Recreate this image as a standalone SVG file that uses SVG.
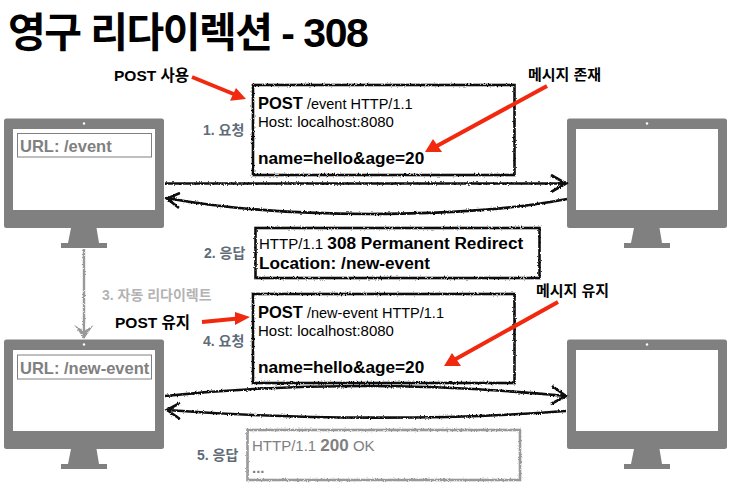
<svg xmlns="http://www.w3.org/2000/svg" xmlns:xlink="http://www.w3.org/1999/xlink" width="740" height="490" viewBox="0 0 740 490">
<style>
text{font-family:"Liberation Sans","Noto Sans CJK KR",sans-serif;font-size:15px;fill:#000}
.b{font-weight:700}
.sm{font-size:15px}
.big{font-weight:700;font-size:17.200px}
.post{font-weight:700;font-size:16.500px}
.reg{font-size:14.500px}
.step{font-weight:700;font-size:14px;fill:#5f6b78}
.note{font-weight:700;font-size:15.500px}
.url{font-weight:700;font-size:16.500px;fill:#808080}
.box{fill:#fff;stroke:#111;stroke-width:2.600;filter:url(#rough)}
.conn{fill:none;stroke:#111;stroke-width:2.600;filter:url(#rough)}
.red{fill:none;stroke:#f0290f;stroke-width:4}
.redh{fill:#f0290f}
.body{fill:#808080}
.scr{fill:#fff}
</style>
<defs>
<filter id="rough" x="-5%" y="-20%" width="110%" height="140%"><feTurbulence type="fractalNoise" baseFrequency="0.7" numOctaves="2" seed="3"/><feDisplacementMap in="SourceGraphic" scale="2.800" xChannelSelector="R" yChannelSelector="G"/></filter>
<filter id="roughv" x="-300%" y="-5%" width="700%" height="110%"><feTurbulence type="fractalNoise" baseFrequency="0.7" numOctaves="2" seed="5"/><feDisplacementMap in="SourceGraphic" scale="2.500" xChannelSelector="R" yChannelSelector="G"/></filter>
<g id="mon">
<rect class="body" x="4" y="118.500" width="160" height="109.500" rx="2.500"/>
<rect class="scr" x="13" y="129" width="142" height="81"/>
<circle cx="84" cy="123.500" r="1.200" fill="#fff"/>
<path class="body" d="M71 228H96.500L99 243H68Z"/>
<rect class="body" x="61" y="243" width="46" height="5"/>
</g>
</defs>
<text x="8" y="47" class="b" style="font-size:41px;letter-spacing:-1.500px">영구 리다이렉션 - 308</text>

<g id="monitor-1"><use xlink:href="#mon"/><rect x="17.500" y="133.500" width="134" height="23.500" fill="#fff" stroke="#808080" stroke-width="1"/><text x="20" y="152" class="url">URL: /event</text></g>
<g id="monitor-2"><use xlink:href="#mon" x="563"/></g>
<g id="monitor-3"><use xlink:href="#mon" y="221"/><rect x="17.500" y="355" width="134" height="24" fill="#fff" stroke="#808080" stroke-width="1"/><text x="20" y="374" class="url">URL: /new-event</text></g>
<g id="monitor-4"><use xlink:href="#mon" x="563" y="221"/></g>

<g id="box-1"><rect class="box" x="253" y="85" width="261.500" height="90"/><text x="258" y="109"><tspan class="post">POST</tspan><tspan class="reg"> /event HTTP/1.1</tspan></text><text x="258" y="127" class="sm">Host: localhost:8080</text><text x="258" y="164" class="big">name=hello&amp;age=20</text></g>
<g id="box-2"><rect class="box" x="255.500" y="228" width="284" height="50"/><text x="259" y="249">HTTP/1.1 <tspan class="big">308 Permanent Redirect</tspan></text><text x="259" y="269" class="big">Location: /new-event</text></g>
<g id="box-3"><rect class="box" x="253" y="294" width="261.500" height="89"/><text x="258" y="318"><tspan class="post">POST</tspan><tspan class="reg"> /new-event HTTP/1.1</tspan></text><text x="258" y="336" class="sm">Host: localhost:8080</text><text x="258" y="373" class="big">name=hello&amp;age=20</text></g>
<g id="box-4"><rect class="box" x="247.500" y="430" width="272.500" height="50" style="stroke:#999"/><text x="252" y="451" style="fill:#808080">HTTP/1.1 <tspan class="b" style="font-size:17px">200</tspan> OK</text><text x="252" y="473" class="b" style="fill:#808080">...</text></g>

<g id="connectors">
<g class="conn">
<path d="M165 183.500H564"/>
<path d="M551 175L566 183.500L551 192M558 183.500H566"/>
<path d="M567 199C480 216 300 222 166 198"/>
<path d="M180 193L167 198.500L179 208"/>
<path d="M165 396C300 382 440 384 566 396"/>
<path d="M552 386L566 396L551 404"/>
<path d="M566 411C450 420 300 420 167 410"/>
<path d="M180 403L167 410L180 419"/>
</g>
<g filter="url(#roughv)">
<path d="M84 249V332" fill="none" stroke="#999" stroke-width="2.400"/>
<path d="M84 339L74.500 325L84 331L93.500 325Z" fill="#999"/>
</g>
<g class="red">
<path d="M192 77L236 95"/>
<path d="M547 86L435 147"/>
<path d="M202 322L238 318.500"/>
<path d="M558 302L454 360"/>
</g>
<path class="redh" d="M246 99L230 100.700L236 88Z"/>
<path class="redh" d="M425 152L442 152L433 139Z"/>
<path class="redh" d="M250 317L235 312L235 325Z"/>
<path class="redh" d="M444 366L461 366L452 353Z"/>
</g>

<g id="labels">
<text x="203" y="135" class="step">1. 요청</text>
<text x="204" y="258" class="step">2. 응답</text>
<text x="102" y="300" class="step" style="fill:#b3b3b3">3. 자동 리다이렉트</text>
<text x="203" y="346" class="step">4. 요청</text>
<text x="197" y="460" class="step">5. 응답</text>
<text x="114" y="81" class="note">POST 사용</text>
<text x="115" y="328" class="note">POST 유지</text>
<text x="528" y="80" class="note" style="font-size:15px">메시지 존재</text>
<text x="536" y="296" class="note" style="font-size:15px">메시지 유지</text>
</g>
</svg>
